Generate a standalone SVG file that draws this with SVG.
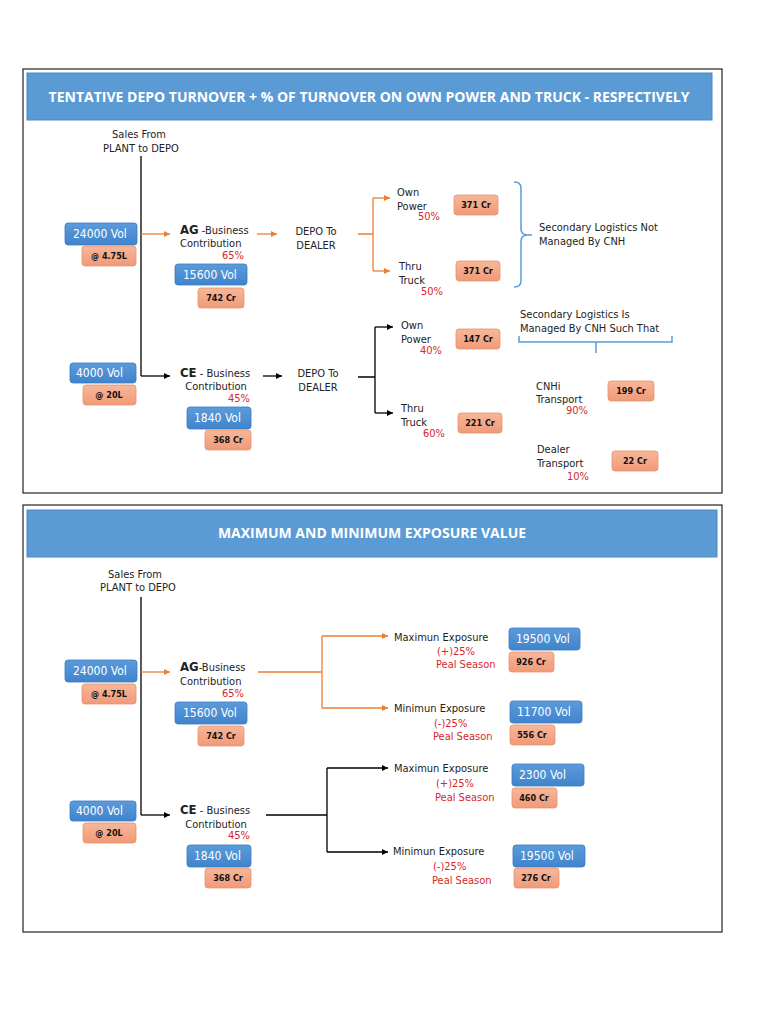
<svg xmlns="http://www.w3.org/2000/svg" width="768" height="1024" viewBox="0 0 768 1024">
<defs>
<linearGradient id="bg" x1="0" y1="0" x2="0" y2="1"><stop offset="0" stop-color="#5C9BDB"/><stop offset="1" stop-color="#3F84CC"/></linearGradient>
<linearGradient id="og" x1="0" y1="0" x2="0" y2="1"><stop offset="0" stop-color="#F7B79A"/><stop offset="1" stop-color="#F09A78"/></linearGradient>
<marker id="ao" markerWidth="8" markerHeight="8" refX="6" refY="3" orient="auto" markerUnits="userSpaceOnUse"><path d="M0,0 L6,3 L0,6 z" fill="#ED7D31"/></marker>
<marker id="ab" markerWidth="8" markerHeight="8" refX="6" refY="3" orient="auto" markerUnits="userSpaceOnUse"><path d="M0,0 L6,3 L0,6 z" fill="#000"/></marker>
</defs>
<style>
text{font-family:"DejaVu Sans Condensed","Liberation Sans",sans-serif;font-size:11px;fill:#222}
.r{fill:#D9262A}
.w{fill:#fff}
.hd{fill:#fff;font-weight:bold;font-size:14px;font-family:"Open Sans","Liberation Sans",sans-serif}
.b{fill:url(#bg);stroke:#3A7CC2;stroke-width:0.8}
.o{fill:url(#og);stroke:#E8926A;stroke-width:0.8}
.ot{font-weight:bold;font-size:9px;fill:#111}
.lo{stroke:#ED7D31;stroke-width:1.3;fill:none}
.lb{stroke:#000;stroke-width:1.3;fill:none}
.br{stroke:#5B9BD5;stroke-width:1.5;fill:none}
.c{text-anchor:middle}
.e{text-anchor:end}
</style>
<rect width="768" height="1024" fill="#fff"/>
<rect x="23" y="69" width="699" height="424" fill="none" stroke="#222" stroke-width="1.2"/>
<rect x="27" y="73" width="685" height="47" fill="#5B9BD5" stroke="#4A88C5"/>
<text class="hd c" x="369" y="102">TENTATIVE DEPO TURNOVER + % OF TURNOVER ON OWN POWER AND TRUCK - RESPECTIVELY</text>
<rect x="23" y="505" width="699" height="427" fill="none" stroke="#222" stroke-width="1.2"/>
<rect x="27" y="510" width="690" height="47" fill="#5B9BD5" stroke="#4A88C5"/>
<text class="hd c" x="372" y="538">MAXIMUM AND MINIMUM EXPOSURE VALUE</text>

<g id="connectors">
<path class="lb" d="M141,156 V376"/>
<path class="lo" d="M141,234 H170" marker-end="url(#ao)"/>
<path class="lb" d="M141,376 H170" marker-end="url(#ab)"/>
<path class="lo" d="M257,234 H277" marker-end="url(#ao)"/>
<path class="lb" d="M263,376 H282" marker-end="url(#ab)"/>
<path class="lo" d="M358,234 H373 M373,198 V271"/>
<path class="lo" d="M373,198 H390" marker-end="url(#ao)"/>
<path class="lo" d="M373,271 H390" marker-end="url(#ao)"/>
<path class="lb" d="M358,377 H375 M375,327 V413"/>
<path class="lb" d="M375,327 H393" marker-end="url(#ab)"/>
<path class="lb" d="M375,413 H393" marker-end="url(#ab)"/>
<path class="br" d="M514,182 Q521,182 521,188 V229 Q521,235 528,235 H532 M528,235 Q521,235 521,241 V281 Q521,287 514,287"/>
<path class="br" d="M519,336 V342 H672 V336 M596,342 V353"/>
<path class="lb" d="M141,597 V815"/>
<path class="lo" d="M141,672 H170" marker-end="url(#ao)"/>
<path class="lb" d="M141,815 H170" marker-end="url(#ab)"/>
<path class="lo" d="M258,672 H322 M322,636 V708"/>
<path class="lo" d="M322,636 H388" marker-end="url(#ao)"/>
<path class="lo" d="M322,708 H388" marker-end="url(#ao)"/>
<path class="lb" d="M266,815 H327 M327,768 V852"/>
<path class="lb" d="M327,768 H388" marker-end="url(#ab)"/>
<path class="lb" d="M327,852 H388" marker-end="url(#ab)"/>
</g>

<g id="p1-source"><text class="c" x="139" y="138">Sales From</text><text class="c" x="141" y="152">PLANT to DEPO</text></g>
<g id="p1-ag-in"><rect class="b" x="65" y="223" width="72" height="22" rx="3"/><text class="w" x="73" y="238" style="font-size:12px">24000 Vol</text>
<rect class="o" x="82" y="246" width="54" height="20" rx="3"/><text class="ot c" x="109" y="259">@ 4.75L</text></g>
<g id="p1-ag"><text x="180" y="234"><tspan style="font-weight:bold;font-size:13px">AG</tspan> -Business</text><text x="180" y="247">Contribution</text><text class="r e" x="244" y="259">65%</text>
<rect class="b" x="175" y="264" width="72" height="21" rx="3"/><text class="w" x="183" y="279" style="font-size:12px">15600 Vol</text>
<rect class="o" x="198" y="288" width="46" height="20" rx="3"/><text class="ot c" x="221" y="301">742 Cr</text></g>
<g id="p1-ag-depo"><text class="c" x="316" y="235">DEPO To</text><text class="c" x="316" y="249">DEALER</text></g>
<g id="p1-ag-own"><text x="397" y="196">Own</text><text x="397" y="210">Power</text><text class="r e" x="440" y="220">50%</text>
<rect class="o" x="454" y="195" width="44" height="20" rx="3"/><text class="ot c" x="476" y="208">371 Cr</text></g>
<g id="p1-ag-truck"><text x="399" y="270">Thru</text><text x="399" y="284">Truck</text><text class="r e" x="443" y="295">50%</text>
<rect class="o" x="456" y="261" width="44" height="20" rx="3"/><text class="ot c" x="478" y="274">371 Cr</text></g>
<g id="p1-not"><text x="539" y="231">Secondary Logistics Not</text><text x="539" y="245">Managed By CNH</text></g>
<g id="p1-ce-in"><rect class="b" x="70" y="363" width="66" height="20" rx="3"/><text class="w" x="76" y="377" style="font-size:12px">4000 Vol</text>
<rect class="o" x="83" y="385" width="53" height="20" rx="3"/><text class="ot c" x="109" y="398">@ 20L</text></g>
<g id="p1-ce"><text x="180" y="377"><tspan style="font-weight:bold;font-size:13px">CE</tspan> - Business</text><text class="c" x="216" y="390">Contribution</text><text class="r e" x="250" y="402">45%</text>
<rect class="b" x="187" y="407" width="64" height="22" rx="3"/><text class="w" x="194" y="422" style="font-size:12px">1840 Vol</text>
<rect class="o" x="205" y="430" width="46" height="20" rx="3"/><text class="ot c" x="228" y="443">368 Cr</text></g>
<g id="p1-ce-depo"><text class="c" x="318" y="377">DEPO To</text><text class="c" x="318" y="391">DEALER</text></g>
<g id="p1-ce-own"><text x="401" y="329">Own</text><text x="401" y="343">Power</text><text class="r e" x="442" y="354">40%</text>
<rect class="o" x="456" y="329" width="44" height="20" rx="3"/><text class="ot c" x="478" y="342">147 Cr</text></g>
<g id="p1-ce-truck"><text x="401" y="412">Thru</text><text x="401" y="426">Truck</text><text class="r e" x="445" y="437">60%</text>
<rect class="o" x="458" y="413" width="44" height="20" rx="3"/><text class="ot c" x="480" y="426">221 Cr</text></g>
<g id="p1-is"><text x="520" y="318">Secondary Logistics Is</text><text x="520" y="332">Managed By CNH Such That</text></g>
<g id="p1-cnhi"><text x="536" y="390">CNHi</text><text x="536" y="403">Transport</text><text class="r e" x="588" y="414">90%</text>
<rect class="o" x="608" y="381" width="46" height="20" rx="3"/><text class="ot c" x="631" y="394">199 Cr</text></g>
<g id="p1-dealer"><text x="537" y="453">Dealer</text><text x="537" y="467">Transport</text><text class="r e" x="589" y="480">10%</text>
<rect class="o" x="612" y="451" width="46" height="20" rx="3"/><text class="ot c" x="635" y="464">22 Cr</text></g>

<g id="p2-source"><text class="c" x="135" y="578">Sales From</text><text class="c" x="138" y="591">PLANT to DEPO</text></g>
<g id="p2-ag-in"><rect class="b" x="65" y="660" width="72" height="22" rx="3"/><text class="w" x="73" y="675" style="font-size:12px">24000 Vol</text>
<rect class="o" x="82" y="684" width="54" height="20" rx="3"/><text class="ot c" x="109" y="697">@ 4.75L</text></g>
<g id="p2-ag"><text x="180" y="671"><tspan style="font-weight:bold;font-size:13px">AG</tspan>-Business</text><text x="180" y="685">Contribution</text><text class="r e" x="244" y="697">65%</text>
<rect class="b" x="175" y="702" width="72" height="22" rx="3"/><text class="w" x="183" y="717" style="font-size:12px">15600 Vol</text>
<rect class="o" x="198" y="726" width="46" height="20" rx="3"/><text class="ot c" x="221" y="739">742 Cr</text></g>
<g id="p2-ag-max"><text x="394" y="641">Maximun Exposure</text><text class="r" x="437" y="655">(+)25%</text><text class="r" x="436" y="668">Peal Season</text>
<rect class="b" x="509" y="628" width="71" height="22" rx="3"/><text class="w" x="516" y="643" style="font-size:12px">19500 Vol</text>
<rect class="o" x="509" y="652" width="45" height="20" rx="3"/><text class="ot c" x="531" y="665">926 Cr</text></g>
<g id="p2-ag-min"><text x="394" y="712">Minimun Exposure</text><text class="r" x="434" y="727">(-)25%</text><text class="r" x="433" y="740">Peal Season</text>
<rect class="b" x="510" y="701" width="72" height="22" rx="3"/><text class="w" x="517" y="716" style="font-size:12px">11700 Vol</text>
<rect class="o" x="510" y="725" width="45" height="20" rx="3"/><text class="ot c" x="532" y="738">556 Cr</text></g>
<g id="p2-ce-in"><rect class="b" x="70" y="801" width="66" height="20" rx="3"/><text class="w" x="76" y="815" style="font-size:12px">4000 Vol</text>
<rect class="o" x="83" y="823" width="53" height="20" rx="3"/><text class="ot c" x="109" y="836">@ 20L</text></g>
<g id="p2-ce"><text x="180" y="814"><tspan style="font-weight:bold;font-size:13px">CE</tspan> - Business</text><text class="c" x="216" y="828">Contribution</text><text class="r e" x="250" y="839">45%</text>
<rect class="b" x="187" y="845" width="64" height="22" rx="3"/><text class="w" x="194" y="860" style="font-size:12px">1840 Vol</text>
<rect class="o" x="205" y="868" width="46" height="20" rx="3"/><text class="ot c" x="228" y="881">368 Cr</text></g>
<g id="p2-ce-max"><text x="394" y="772">Maximun Exposure</text><text class="r" x="436" y="787">(+)25%</text><text class="r" x="435" y="801">Peal Season</text>
<rect class="b" x="512" y="764" width="72" height="22" rx="3"/><text class="w" x="519" y="779" style="font-size:12px">2300 Vol</text>
<rect class="o" x="512" y="788" width="45" height="20" rx="3"/><text class="ot c" x="534" y="801">460 Cr</text></g>
<g id="p2-ce-min"><text x="393" y="855">Minimun Exposure</text><text class="r" x="433" y="870">(-)25%</text><text class="r" x="432" y="884">Peal Season</text>
<rect class="b" x="513" y="845" width="72" height="22" rx="3"/><text class="w" x="520" y="860" style="font-size:12px">19500 Vol</text>
<rect class="o" x="514" y="868" width="45" height="20" rx="3"/><text class="ot c" x="536" y="881">276 Cr</text></g>
</svg>
